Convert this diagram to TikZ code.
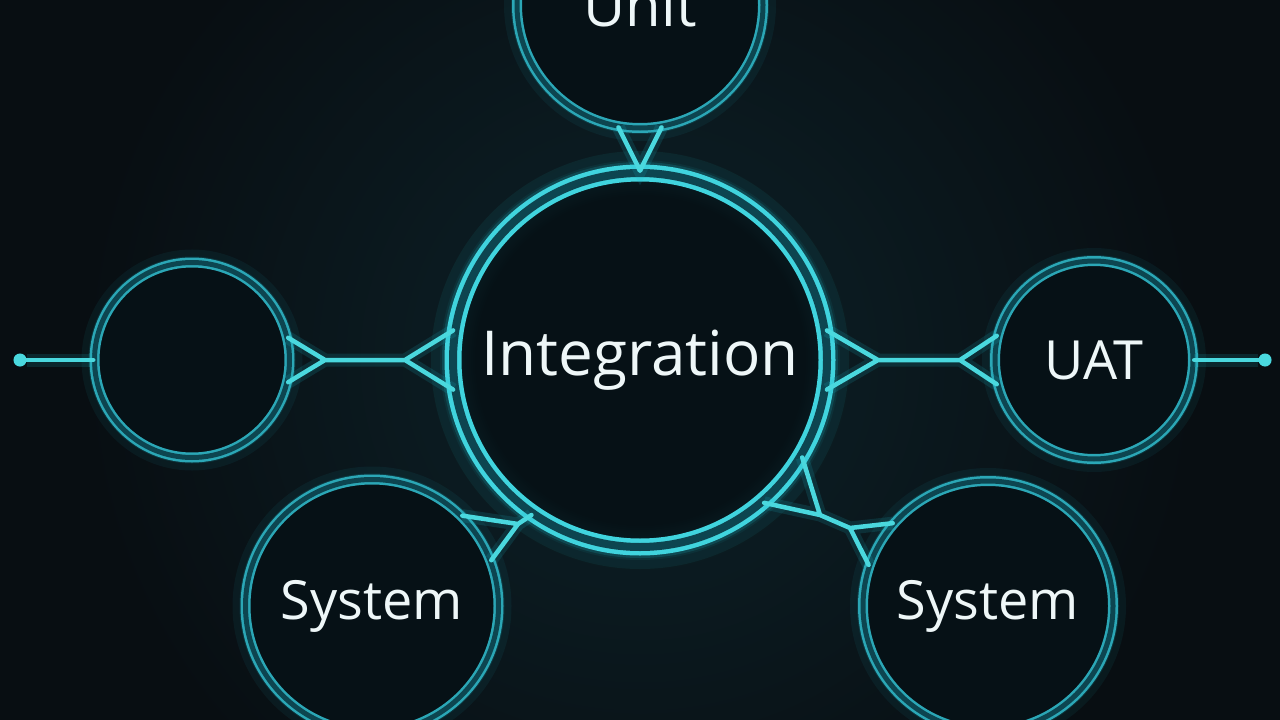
\documentclass[tikz,border=0pt]{standalone}
\usepackage{fontspec}
\setmainfont{Open Sans}
\definecolor{bgc}{HTML}{080E12}
\definecolor{haze}{HTML}{0D2229}
\definecolor{ringc}{HTML}{40D4DE}
\definecolor{dimring}{HTML}{2BA7B6}
\definecolor{glowc}{HTML}{1AB8CA}
\definecolor{linkc}{HTML}{4AD8DE}
\definecolor{gapc}{HTML}{0D4550}
\definecolor{txtc}{HTML}{EEF7F8}
\definecolor{darkin}{HTML}{061116}
\definecolor{bigout}{HTML}{1A7884}
\definecolor{smallout}{HTML}{0E3641}
\pgfdeclareradialshading{bigfill}{\pgfpoint{0bp}{0bp}}{color(0bp)=(darkin); color(22bp)=(darkin); color(50bp)=(bigout)}
\pgfdeclareradialshading{smallfill}{\pgfpoint{0bp}{0bp}}{color(0bp)=(darkin); color(30bp)=(darkin); color(50bp)=(smallout)}
\tikzset{
  ring/.style={circle, inner sep=0pt, shade, shading=smallfill, draw=dimring, line width=2.5pt,
    double=gapc, double distance=5pt, text=txtc, font=\fontsize{54}{54}\selectfont,
    preaction={draw=glowc, line width=26pt, draw opacity=0.07},
    preaction={draw=glowc, line width=12pt, draw opacity=0.15}},
  bigring/.style={ring, shading=bigfill, draw=ringc, line width=4.5pt, double distance=8pt,
    font=\fontsize{62}{62}\selectfont,
    preaction={draw=glowc, line width=44pt, draw opacity=0.08},
    preaction={draw=glowc, line width=22pt, draw opacity=0.18}},
  link/.style={draw=linkc, line width=4.5pt, line cap=round, line join=round,
    preaction={draw=glowc, line width=13pt, draw opacity=0.15}},
  dot/.style={circle, fill=linkc, inner sep=0pt, minimum size=13pt,
    preaction={fill=glowc, opacity=0.3, minimum size=22pt}}
}
\begin{document}
\begin{tikzpicture}[x=1pt,y=-1pt]
  \useasboundingbox (0,0) rectangle (1280,720);
  \clip (0,0) rectangle (1280,720);
  \fill[bgc] (0,0) rectangle (1280,720);
  \shade[inner color=haze, outer color=bgc] (640,360) circle[radius=560];

  \node[ring, minimum size=246pt, font=\fontsize{58}{58}\selectfont] (unit) at (640,5) {Unit};
  \node[bigring, minimum size=374pt] (integ) at ( 640,360) {Integration};
  \node[ring, minimum size=195pt] (left)  at ( 192,360) {};
  \node[ring, minimum size=198pt] (uat)   at (1094,360) {UAT};
  \node[ring, minimum size=253pt] (sysl)  at ( 372,606) {System};
  \node[ring, minimum size=250pt] (sysr)  at ( 988,606) {System};

  \node[dot] (ldot) at (  20,360) {};
  \node[dot] (rdot) at (1265,360) {};

  \coordinate (lj1) at ( 325,360);
  \coordinate (lj2) at ( 405,360);
  \coordinate (rj1) at ( 878,360);
  \coordinate (rj2) at ( 960,360);
  \coordinate (bl)  at ( 518,524);
  \coordinate (br1) at ( 820,515);
  \coordinate (br2) at ( 850,528);

  \draw[link] (ldot) -- (left);
  \draw[link] (uat) -- (rdot);
  \draw[link] (left.13) -- (lj1) -- (left.-13) (lj1) -- (lj2)
              (integ.171) -- (lj2) -- (integ.189);
  \draw[link] (integ.9) -- (rj1) -- (integ.-9) (rj1) -- (rj2)
              (uat.166) -- (rj2) -- (uat.194);
  \draw[link] (unit.-100) -- (integ.90) -- (unit.-80);
  \draw[link] (sysl.45) -- (bl) -- (sysl.21) (bl) -- (integ.235);
  \draw[link] (integ.-31) -- (br1) -- (integ.-49) (br1) -- (br2)
              (sysr.139) -- (br2) -- (sysr.161);
\end{tikzpicture}
\end{document}
